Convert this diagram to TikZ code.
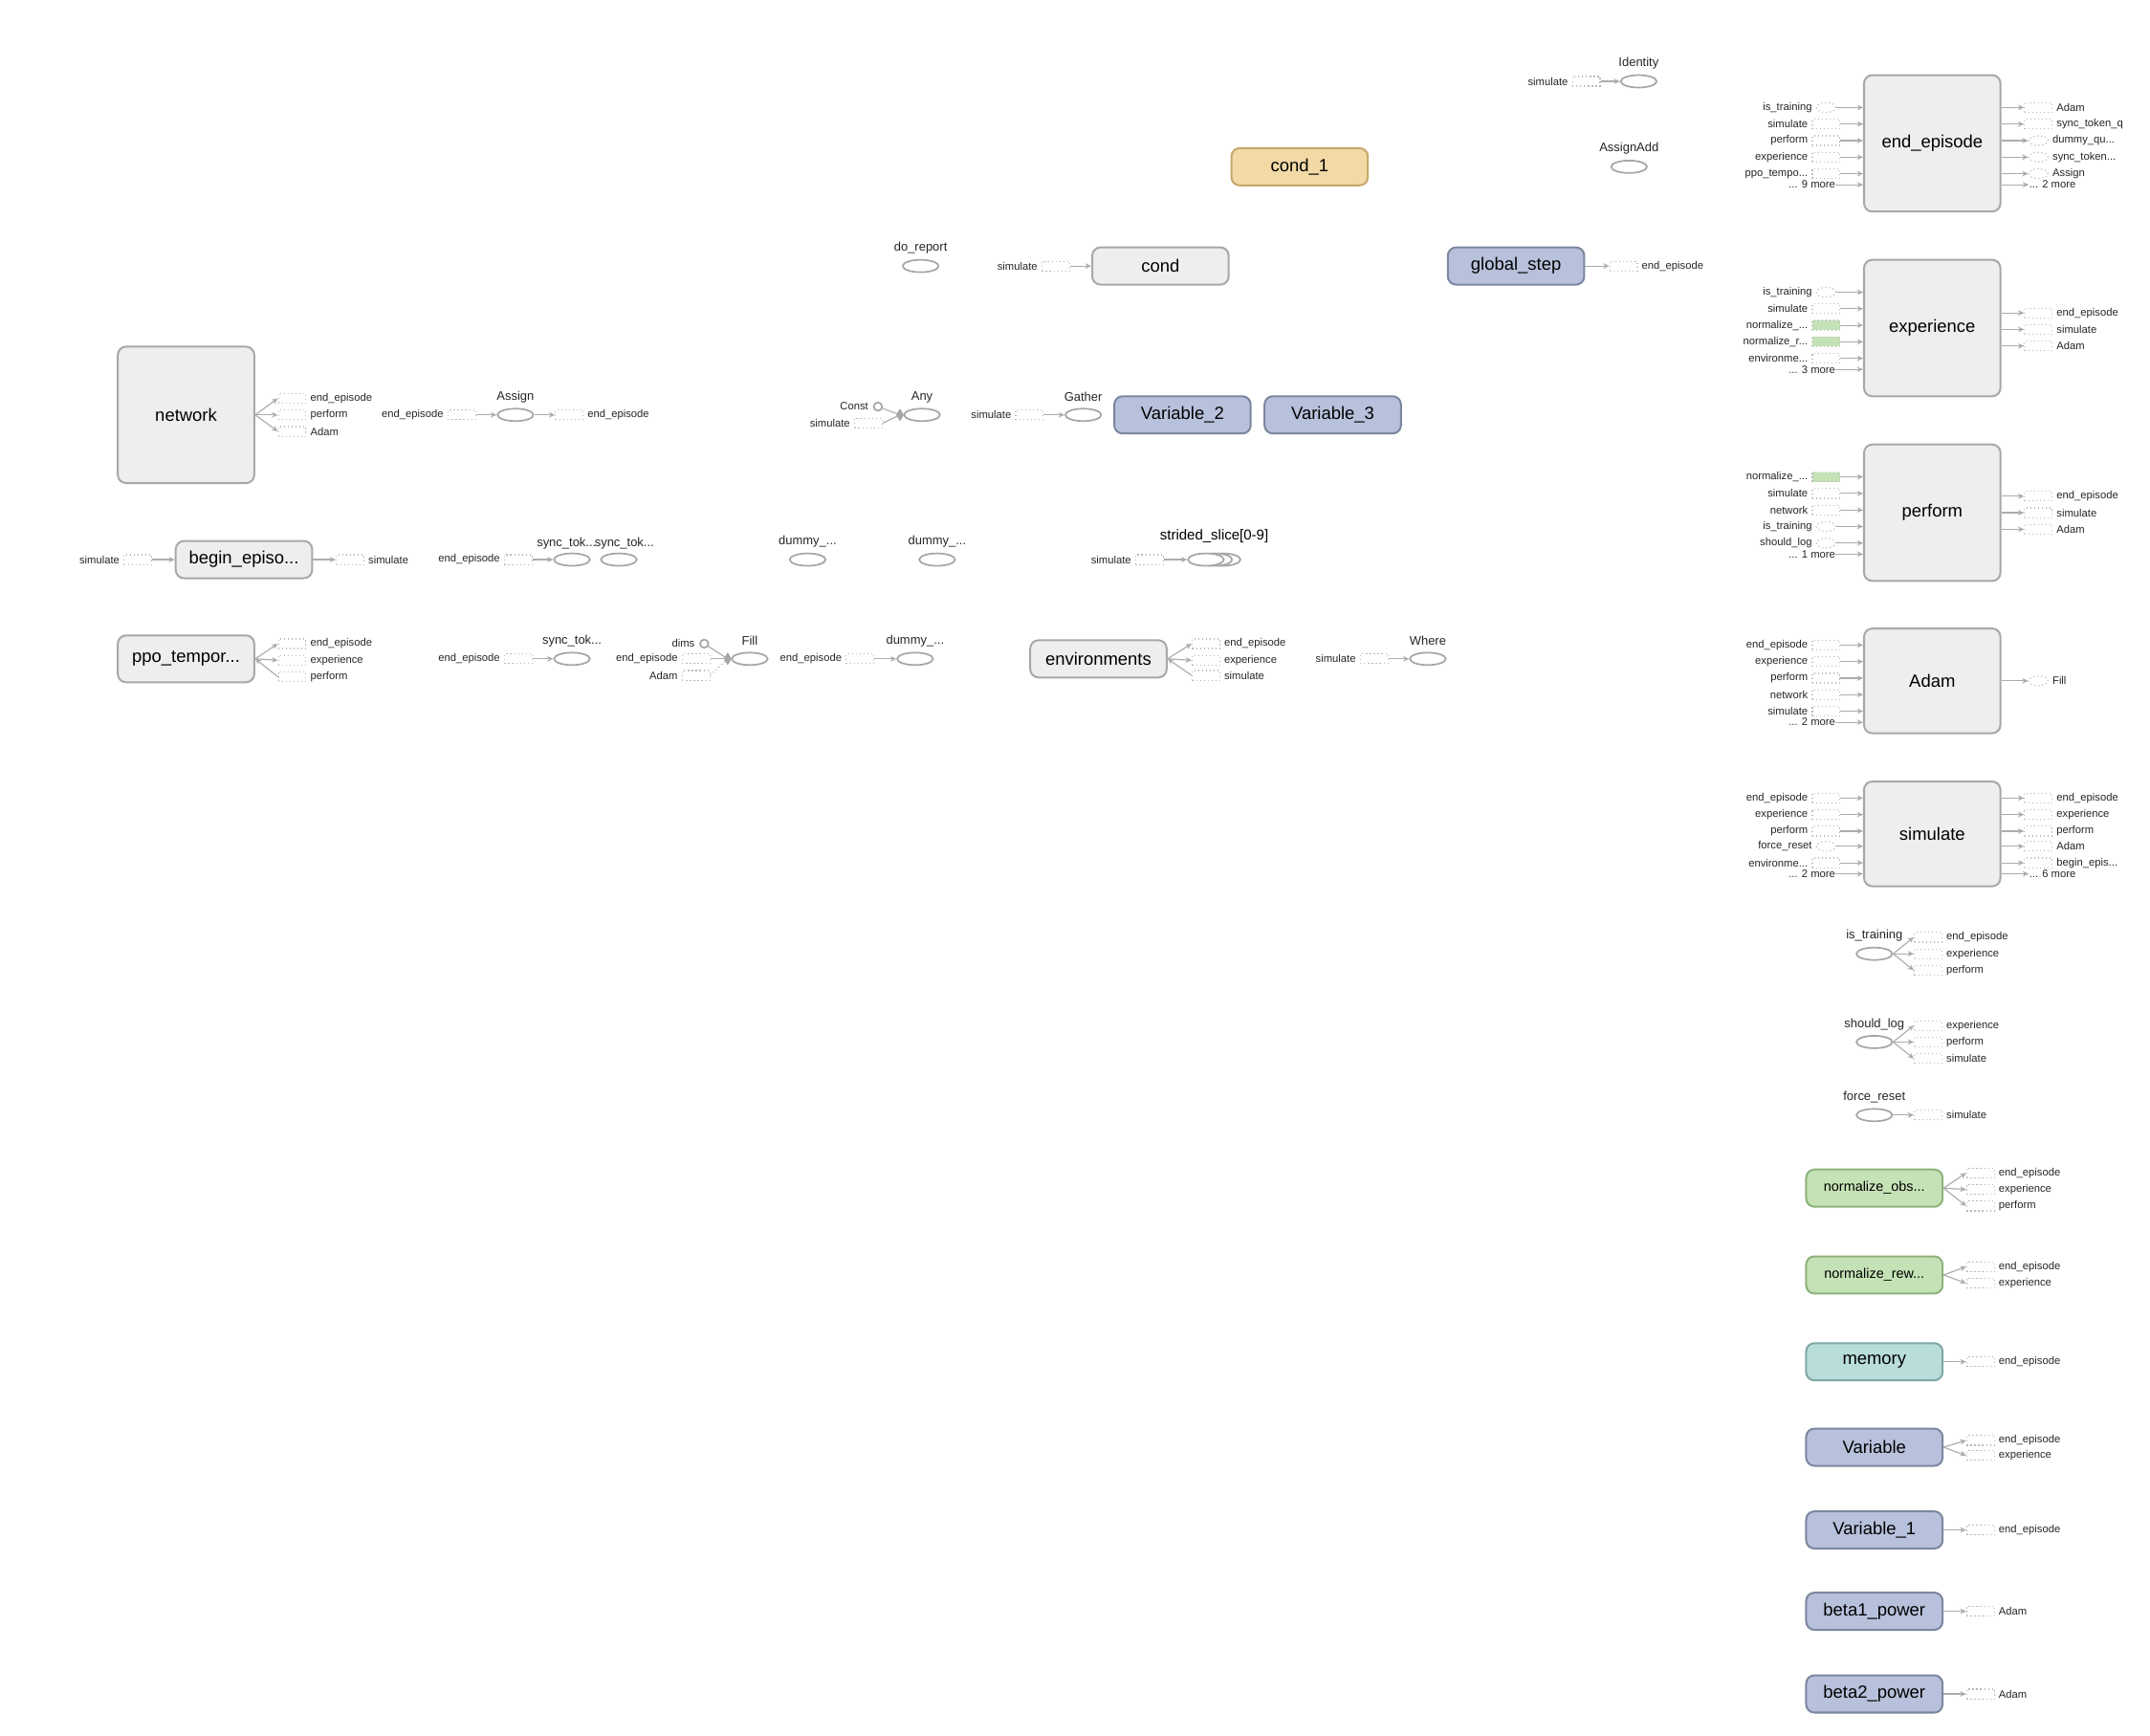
\documentclass[tikz,border=0pt]{standalone}
\usepackage{fontspec}
\setmainfont{Liberation Sans}
\usetikzlibrary{calc,arrows.meta,shapes.geometric}
\definecolor{gbox}{HTML}{EEEEEE}\definecolor{gbd}{HTML}{A8A8A8}
\definecolor{bbox}{HTML}{B7C1DB}\definecolor{bbd}{HTML}{7B879F}
\definecolor{tbox}{HTML}{F2D9A6}\definecolor{tbd}{HTML}{C7A76A}
\definecolor{grn}{HTML}{C5E2B6}\definecolor{grnd}{HTML}{8DB37C}
\definecolor{teal}{HTML}{B9DDDA}\definecolor{teald}{HTML}{7EA8A4}
\tikzset{
 big/.style={draw=gbd,fill=gbox,rounded corners=3pt,minimum width=49.5pt,minimum height=49.5pt,inner sep=0,font=\fontsize{6.4}{7}\selectfont,line width=0.7pt},
 mid/.style={draw=gbd,fill=gbox,rounded corners=3pt,minimum width=49.5pt,minimum height=13.5pt,inner sep=0,font=\fontsize{6.4}{7}\selectfont,line width=0.7pt},
 blu/.style={mid,draw=bbd,fill=bbox},
 tan/.style={mid,draw=tbd,fill=tbox},
 gre/.style={mid,draw=grnd,fill=grn,font=\fontsize{5}{6}\selectfont},
 tea/.style={mid,draw=teald,fill=teal},
 stub/.style={draw=gray!55,densely dotted,minimum width=10pt,minimum height=3.5pt,inner sep=0},
 gstub/.style={stub,fill=grn},
 ostub/.style={draw=gray!55,densely dotted,ellipse,minimum width=7pt,minimum height=3.5pt,inner sep=0},
 op/.style={draw=gray!70,ellipse,minimum width=13pt,minimum height=4.5pt,inner sep=0,line width=0.6pt},
 lbl/.style={font=\fontsize{3.9}{4.5}\selectfont,inner sep=0,text=black!85},
 olbl/.style={font=\fontsize{4.5}{5}\selectfont,inner sep=0,text=black!85},
 edge/.style={draw=gray!65,line width=0.4pt,-{Stealth[length=2.2pt,width=2pt]}},
}
\newcounter{sc}
\newcommand\inL[5]{\stepcounter{sc}\node[#5] (s\thesc) at (#2,#3) {};\node[lbl,anchor=east] (t\thesc) at ($(s\thesc.west)+(-2.5,0)$) {#4};\draw[edge] (s\thesc.east) -- (s\thesc.east -| #1.west);}
\newcommand\outR[5]{\stepcounter{sc}\node[#5] (s\thesc) at (#2,#3) {};\node[lbl,anchor=west] (t\thesc) at ($(s\thesc.east)+(2.5,0)$) {#4};\draw[edge] (s\thesc.west -| #1.east) -- (s\thesc.west);}
\newcommand\fanR[4]{\stepcounter{sc}\node[stub] (s\thesc) at (#2,#3) {};\node[lbl,anchor=west] (t\thesc) at ($(s\thesc.east)+(2.5,0)$) {#4};\draw[edge] (#1.east) -- (s\thesc.west);}
\newcommand\inPt[4]{\stepcounter{sc}\node[stub] (s\thesc) at (#2,#3) {};\node[lbl,anchor=east] (t\thesc) at ($(s\thesc.west)+(-2.5,0)$) {#4};\draw[edge] (s\thesc.east) -- (#1.west);}
\newcommand\more[4]{\stepcounter{sc}\node[lbl,anchor=east] (m\thesc) at (#2,#3) {#4};\draw[edge] (m\thesc.east) -- (m\thesc.east -| #1.west);}
\newcommand\moreR[4]{\stepcounter{sc}\node[lbl,anchor=west] (m\thesc) at (#2,#3) {#4};\draw[edge] (m\thesc.west -| #1.east) -- (m\thesc.west);}
\newcommand\opn[4]{\node[op] (#1) at (#2,#3) {};\node[olbl] (#1l) at (#2,#3-13) {#4};}
\begin{document}
\begin{tikzpicture}[x=0.5pt,y=-0.5pt]
\useasboundingbox (0,0) rectangle (1560,1259);
% top
\opn{identity}{1189}{59}{Identity}
\inPt{identity}{1151}{59}{simulate}
\opn{assignadd}{1182}{121}{AssignAdd}
\node[tan] (cond1) at (943,121) {cond\_1};
\opn{doreport}{668}{193}{do\_report}
\node[mid] (cond) at (842,193) {cond};
\inPt{cond}{766}{193}{simulate}
\node[blu] (gstep) at (1100,193) {global\_step};
\fanR{gstep}{1178}{193}{end\_episode}
% end_episode
\node[big] (ee) at (1402,104) {end\_episode};
\inL{ee}{1325}{78}{is\_training}{ostub}
\inL{ee}{1325}{90}{simulate}{stub}
\inL{ee}{1325}{102}{perform}{stub}
\inL{ee}{1325}{114}{experience}{stub}
\inL{ee}{1325}{126}{ppo\_tempo...}{stub}
\more{ee}{1332}{134}{... 9 more}
\outR{ee}{1479}{78}{Adam}{stub}
\outR{ee}{1479}{90}{sync\_token\_q}{stub}
\outR{ee}{1479}{102}{dummy\_qu...}{ostub}
\outR{ee}{1479}{114}{sync\_token...}{ostub}
\outR{ee}{1479}{126}{Assign}{ostub}
\moreR{ee}{1472}{134}{... 2 more}
% experience
\node[big] (ex) at (1402,238) {experience};
\inL{ex}{1325}{212}{is\_training}{ostub}
\inL{ex}{1325}{224}{simulate}{stub}
\inL{ex}{1325}{236}{normalize\_...}{gstub}
\inL{ex}{1325}{248}{normalize\_r...}{gstub}
\inL{ex}{1325}{260}{environme...}{stub}
\more{ex}{1332}{268}{... 3 more}
\outR{ex}{1479}{227}{end\_episode}{stub}
\outR{ex}{1479}{239}{simulate}{stub}
\outR{ex}{1479}{251}{Adam}{stub}
% perform
\node[big] (pf) at (1402,372) {perform};
\inL{pf}{1325}{346}{normalize\_...}{gstub}
\inL{pf}{1325}{358}{simulate}{stub}
\inL{pf}{1325}{370}{network}{stub}
\inL{pf}{1325}{382}{is\_training}{ostub}
\inL{pf}{1325}{394}{should\_log}{ostub}
\more{pf}{1332}{402}{... 1 more}
\outR{pf}{1479}{360}{end\_episode}{stub}
\outR{pf}{1479}{372}{simulate}{stub}
\outR{pf}{1479}{384}{Adam}{stub}
% Adam
\node[big,minimum height=38pt] (adam) at (1402,494) {Adam};
\inL{adam}{1325}{468}{end\_episode}{stub}
\inL{adam}{1325}{480}{experience}{stub}
\inL{adam}{1325}{492}{perform}{stub}
\inL{adam}{1325}{504}{network}{stub}
\inL{adam}{1325}{516}{simulate}{stub}
\more{adam}{1332}{524}{... 2 more}
\outR{adam}{1479}{494}{Fill}{ostub}
% simulate
\node[big,minimum height=38pt] (sim) at (1402,605) {simulate};
\inL{sim}{1325}{579}{end\_episode}{stub}
\inL{sim}{1325}{591}{experience}{stub}
\inL{sim}{1325}{603}{perform}{stub}
\inL{sim}{1325}{614}{force\_reset}{ostub}
\inL{sim}{1325}{626}{environme...}{stub}
\more{sim}{1332}{634}{... 2 more}
\outR{sim}{1479}{579}{end\_episode}{stub}
\outR{sim}{1479}{591}{experience}{stub}
\outR{sim}{1479}{603}{perform}{stub}
\outR{sim}{1479}{614}{Adam}{stub}
\outR{sim}{1479}{626}{begin\_epis...}{stub}
\moreR{sim}{1472}{634}{... 6 more}
% small ops right column
\opn{istr}{1360}{692}{is\_training}
\fanR{istr}{1399}{680}{end\_episode}
\fanR{istr}{1399}{692}{experience}
\fanR{istr}{1399}{704}{perform}
\opn{shlog}{1360}{756}{should\_log}
\fanR{shlog}{1399}{744}{experience}
\fanR{shlog}{1399}{756}{perform}
\fanR{shlog}{1399}{768}{simulate}
\opn{frs}{1360}{809}{force\_reset}
\fanR{frs}{1399}{809}{simulate}
\node[gre] (nobs) at (1360,862) {normalize\_obs...};
\fanR{nobs}{1437}{851}{end\_episode}
\fanR{nobs}{1437}{863}{experience}
\fanR{nobs}{1437}{875}{perform}
\node[gre] (nrew) at (1360,925) {normalize\_rew...};
\fanR{nrew}{1437}{919}{end\_episode}
\fanR{nrew}{1437}{931}{experience}
\node[tea] (mem) at (1360,988) {memory};
\fanR{mem}{1437}{988}{end\_episode}
\node[blu] (var) at (1360,1050) {Variable};
\fanR{var}{1437}{1045}{end\_episode}
\fanR{var}{1437}{1056}{experience}
\node[blu] (var1) at (1360,1110) {Variable\_1};
\fanR{var1}{1437}{1110}{end\_episode}
\node[blu] (b1) at (1360,1169) {beta1\_power};
\fanR{b1}{1437}{1169}{Adam}
\node[blu] (b2) at (1360,1229) {beta2\_power};
\fanR{b2}{1437}{1229}{Adam}
% left area
\node[big] (net) at (135,301) {network};
\fanR{net}{212}{289}{end\_episode}
\fanR{net}{212}{301}{perform}
\fanR{net}{212}{313}{Adam}
\opn{assign}{374}{301}{Assign}
\inPt{assign}{335}{301}{end\_episode}
\fanR{assign}{413}{301}{end\_episode}
\node[draw=gray!70,circle,minimum size=3pt,inner sep=0,line width=0.6pt] (const) at (637,295) {};
\node[lbl,anchor=east] at ($(const.west)+(-3,0)$) {Const};
\node[draw=gray!70,fill=gray!70,diamond,minimum width=2.5pt,minimum height=4pt,inner sep=0] (anyd) at (653,301) {};
\opn{any}{669}{301}{Any}
\draw[edge,-] (const) -- (anyd);
\stepcounter{sc}\node[stub] (s\thesc) at (630,307) {};\node[lbl,anchor=east] at ($(s\thesc.west)+(-2.5,0)$) {simulate};\draw[gray!65,line width=0.4pt] (s\thesc.east) -- (anyd);
\draw[gray!65,line width=0.4pt] (anyd) -- (any.west);
\opn{gather}{786}{301}{Gather}
\inPt{gather}{747}{301}{simulate}
\node[blu] (v2) at (858,301) {Variable\_2};
\node[blu] (v3) at (967,301) {Variable\_3};
% row 406
\node[mid] (beg) at (177,406) {begin\_episo...};
\inPt{beg}{100}{406}{simulate}
\fanR{beg}{254}{406}{simulate}
\node[op] (st1) at (415,406) {};\node[olbl] at (411,394) {sync\_tok...};
\inPt{st1}{376}{406}{end\_episode}
\node[op] (st2) at (449,406) {};\node[olbl] at (453,394) {sync\_tok...};
\opn{dm1}{586}{406}{dummy\_...}
\opn{dm2}{680}{406}{dummy\_...}
\node[op] (ssc) at (887,406) {};
\node[op,fill=white] (ssb) at (881,406) {};
\node[op,fill=white] (ss) at (875,406) {};
\node[font=\fontsize{5.2}{6}\selectfont,inner sep=0] at (881,389) {strided\_slice[0-9]};
\inPt{ss}{834}{406}{simulate}
% row 478
\node[mid,minimum height=17pt] (ppo) at (135,478) {ppo\_tempor...};
\fanR{ppo}{212}{467}{end\_episode}
\fanR{ppo}{212}{479}{experience}
\stepcounter{sc}\node[stub] (s\thesc) at (212,491) {};\node[lbl,anchor=west] at ($(s\thesc.east)+(2.5,0)$) {perform};\draw[edge] (s\thesc.west) -- (ppo.east);
\opn{st3}{415}{478}{sync\_tok...}
\inPt{st3}{376}{478}{end\_episode}
\node[draw=gray!70,fill=gray!70,diamond,minimum width=2.5pt,minimum height=4pt,inner sep=0] (filld) at (528,478) {};
\opn{fill}{544}{478}{Fill}
\node[draw=gray!70,circle,minimum size=3pt,inner sep=0,line width=0.6pt] (dims) at (511,467) {};
\node[lbl,anchor=east] at ($(dims.west)+(-3,0)$) {dims};
\draw[gray!65,line width=0.4pt] (dims) -- (filld) -- (fill.west);
\stepcounter{sc}\node[stub] (s\thesc) at (505,478) {};\node[lbl,anchor=east] at ($(s\thesc.west)+(-2.5,0)$) {end\_episode};\draw[gray!65,line width=0.4pt] (s\thesc.east) -- (filld);
\stepcounter{sc}\node[stub] (s\thesc) at (505,490) {};\node[lbl,anchor=east] at ($(s\thesc.west)+(-2.5,0)$) {Adam};\draw[gray!65,line width=0.4pt,densely dotted] (s\thesc.east) -- (filld);
\opn{dm3}{664}{478}{dummy\_...}
\inPt{dm3}{624}{478}{end\_episode}
\node[mid] (env) at (797,478) {environments};
\fanR{env}{875}{467}{end\_episode}
\fanR{env}{875}{479}{experience}
\stepcounter{sc}\node[stub] (s\thesc) at (875,490) {};\node[lbl,anchor=west] at ($(s\thesc.east)+(2.5,0)$) {simulate};\draw[edge] (s\thesc.west) -- (env.east);
\opn{where}{1036}{478}{Where}
\inPt{where}{997}{478}{simulate}
\end{tikzpicture}
\end{document}
